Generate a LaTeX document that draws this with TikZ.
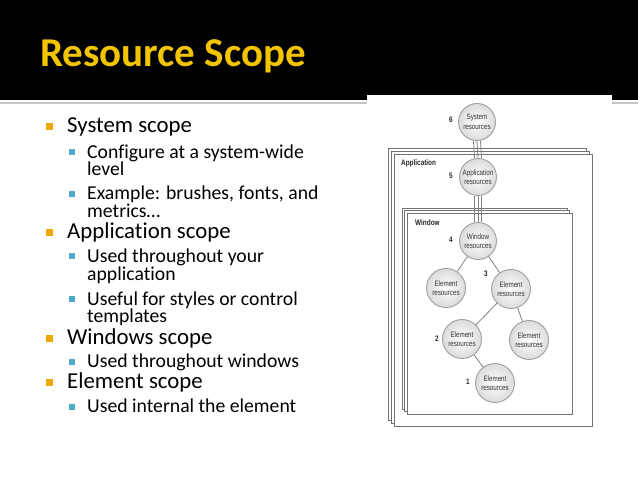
\documentclass[tikz,border=0pt]{standalone}
\usepackage{fontspec}
\setmainfont{Carlito}[Ligatures=CommonOff]
\newfontfamily\diagfont[FakeStretch=0.8]{Liberation Sans}
\definecolor{titleyellow}{RGB}{242,196,0}
\definecolor{bulletorange}{RGB}{240,168,0}
\definecolor{bulletblue}{RGB}{75,172,198}
\definecolor{framegray}{RGB}{115,115,115}

\begin{document}
\begin{tikzpicture}[x=1pt,y=-1pt,
	res/.style={circle,draw=gray!75,line width=0.9pt,inner color=white,outer color=gray!28,
		minimum size=37pt,inner sep=0pt,align=center,text=black!80,
		font=\diagfont\fontsize{7.8}{9.5}\selectfont},
	elres/.style={res,minimum size=39pt},
	num/.style={inner sep=0pt,text=black!85,font=\diagfont\bfseries\fontsize{8}{9}\selectfont},
	page/.style={draw=framegray,fill=white,line width=0.7pt},
	link/.style={draw=gray,line width=0.8pt},
	lvlone/.style={anchor=base west,inner sep=0pt,font=\fontsize{22.8}{27}\selectfont},
	lvltwo/.style={anchor=base west,inner sep=0pt,align=left,font=\fontsize{19.7}{17.8}\selectfont}]
	\useasboundingbox (0,0) rectangle (638,478);
	% Title bar
	\fill[black] (0,0) rectangle (638,100);
	\draw[gray!45,line width=1.5pt] (0,103) -- (638,103);
	\node[anchor=base west,inner sep=0pt,text=titleyellow,
		font=\fontsize{41}{45}\bfseries\selectfont] (title) at (40,67) {Resource Scope};
	% Bullets
	\foreach \y in {133,239,345,389}
		\fill[bulletorange] (46,\y-9.5) rectangle ++(7,7);
	\foreach \y in {158,200,262,305,368,413}
		\fill[bulletblue] (69,\y-8.5) rectangle ++(5.5,5.5);
	% Bullet text (base = last line)
	\node[lvlone] (sysscope) at (67,133) {System scope};
	\node[lvltwo] (sysa) at (87,176) {Configure at a system-wide\\level};
	\node[lvltwo] (sysb) at (87,217.5) {Example: brushes, fonts, and\\metrics…};
	\node[lvlone] (appscope) at (67,239) {Application scope};
	\node[lvltwo] (appa) at (87,280.5) {Used throughout your\\application};
	\node[lvltwo] (appb) at (87,323) {Useful for styles or control\\templates};
	\node[lvlone] (winscope) at (67,345) {Windows scope};
	\node[lvltwo] (wina) at (87,368) {Used throughout windows};
	\node[lvlone] (elscope) at (67,389) {Element scope};
	\node[lvltwo] (ela) at (87,413) {Used internal the element};
	% Diagram background
	\fill[white] (367,95) rectangle (612,445);
	% Application pages
	\foreach \d in {0,3,6}
		\draw[page] (388+\d,148+\d) rectangle (586+\d,420+\d);
	\node[num,anchor=west] (applbl) at (401,163) {Application};
	% Window pages
	\foreach \d in {0,2.5,5}
		\draw[page] (402+\d,208+\d) rectangle (567+\d,409+\d);
	\node[num,anchor=west] (winlbl) at (415,223) {Window};
	% Resources
	\node[res] (sys) at (477,122) {System\\resources};
	\node[res] (app) at (478,177) {Application\\resources};
	\node[res] (win) at (478,241) {Window\\resources};
	\node[elres] (el) at (446,288) {Element\\resources};
	\node[elres] (er) at (511,289) {Element\\resources};
	\node[elres] (e2) at (462,339) {Element\\resources};
	\node[elres] (e3) at (529,340) {Element\\resources};
	\node[elres] (e1) at (495,383) {Element\\resources};
	% Numbers
	\node[num] (n6) at (451,120) {6};
	\node[num] (n5) at (451,176) {5};
	\node[num] (n4) at (451,240) {4};
	\node[num] (n3) at (486,274) {3};
	\node[num] (n2) at (437,339) {2};
	\node[num] (n1) at (468,382) {1};
	% Links
	\foreach \s in {-3.5,0,3.5} {
		\draw[link] ([xshift=\s pt]sys.south) -- ([xshift=\s pt]app.north);
		\draw[link] ([xshift=\s pt]app.south) -- ([xshift=\s pt]win.north);
	}
	\draw[link] (win) -- (el);
	\draw[link] (win) -- (er);
	\draw[link] (er) -- (e2);
	\draw[link] (er) -- (e3);
	\draw[link] (e2) -- (e1);
\end{tikzpicture}
\end{document}
